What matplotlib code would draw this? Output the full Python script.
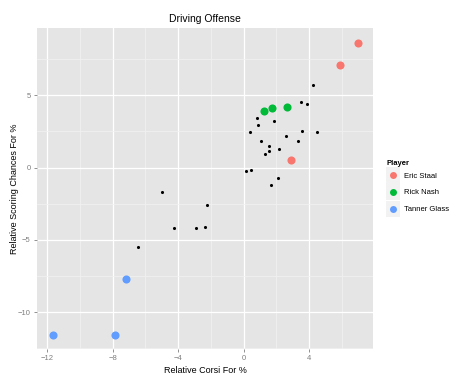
import matplotlib
matplotlib.use("Agg")
from matplotlib import pyplot as plt
from matplotlib.ticker import MultipleLocator
from matplotlib.patches import Rectangle
from matplotlib.lines import Line2D
from matplotlib.legend_handler import HandlerBase

plt.rcParams['font.family'] = ['Liberation Sans', 'DejaVu Sans']

# other players (black dots)
other_x = [4.22, 3.49, 3.88, 0.84, 1.88, 0.90, 0.42, 3.55, 4.50, 2.58,
           1.05, 3.35, 1.56, 2.19, 1.56, 1.31, 0.17, 0.48, 2.09, 1.70,
           -2.21, -2.36, -4.96, -4.23, -2.93, -6.46]
other_y = [5.74, 4.53, 4.37, 3.46, 3.25, 2.97, 2.46, 2.51, 2.44, 2.16,
           1.87, 1.82, 1.47, 1.31, 1.13, 0.92, -0.21, -0.14, -0.72, -1.17,
           -2.58, -4.10, -1.70, -4.19, -4.19, -5.48]

players = ["Eric Staal", "Rick Nash", "Tanner Glass"]
player_x = [[7.00, 5.90, 2.90], [1.24, 1.75, 2.64], [-11.67, -7.88, -7.20]]
player_y = [[8.62, 7.12, 0.50], [3.91, 4.12, 4.19], [-11.60, -11.55, -7.70]]
colors = ["#F8766D", "#00BA38", "#619CFF"]


class KeyHandler(HandlerBase):
    # ggplot style key: grey square with the point in the middle
    def create_artists(self, legend, orig_handle, xdescent, ydescent,
                       width, height, fontsize, trans):
        bg = Rectangle((-xdescent, -ydescent), width, height,
                       facecolor="#F2F2F2", edgecolor="none", transform=trans)
        mk = Line2D([width / 2 - xdescent], [height / 2 - ydescent],
                    marker="o", linestyle="none", markersize=5,
                    markerfacecolor=orig_handle.get_facecolor()[0],
                    markeredgewidth=0, transform=trans)
        return [bg, mk]


fig = plt.figure(figsize=(4.74, 3.82), dpi=100)
ax = fig.add_axes([0.078, 0.0864, 0.709, 0.8406])
ax.set_facecolor("#E5E5E5")

ax.scatter(other_x, other_y, s=5, color="black", zorder=3, linewidths=0)
pts = []
for name, xs, ys, c in zip(players, player_x, player_y, colors):
    pts.append(ax.scatter(xs, ys, s=34, color=c, zorder=4, linewidths=0, label=name))

ax.set_xlim(-12.63, 7.92)
ax.set_ylim(-12.54, 9.66)
ax.xaxis.set_major_locator(MultipleLocator(4))
ax.xaxis.set_minor_locator(MultipleLocator(2))
ax.yaxis.set_major_locator(MultipleLocator(5))
ax.yaxis.set_minor_locator(MultipleLocator(2.5))
ax.grid(True, which="major", color="white", linewidth=0.9)
ax.grid(True, which="minor", color="#F2F2F2", linewidth=0.5)
ax.set_axisbelow(True)
for s in ax.spines.values():
    s.set_visible(False)
ax.tick_params(which="major", length=2.5, width=0.6, color="#7F7F7F",
               labelsize=5.5, labelcolor="#7F7F7F", pad=2)
ax.tick_params(which="minor", length=0)

ax.set_title("Driving Offense", fontsize=7.5, pad=4)
ax.set_xlabel("Relative Corsi For %", fontsize=6.5, labelpad=3)
ax.set_ylabel("Relative Scoring Chances For %", fontsize=6.5, labelpad=-1)

leg = ax.legend(pts, players, title="Player", loc="center left",
                bbox_to_anchor=(1.03, 0.5),
                handler_map={type(pts[0]): KeyHandler()},
                frameon=False, fontsize=5.5, title_fontsize=5.5,
                handlelength=1.85, handleheight=2.9,
                handletextpad=0.5, labelspacing=0.05, borderaxespad=0)
leg.get_title().set_fontweight("bold")
leg._legend_box.align = "left"

fig.savefig("out.png", dpi=100)
